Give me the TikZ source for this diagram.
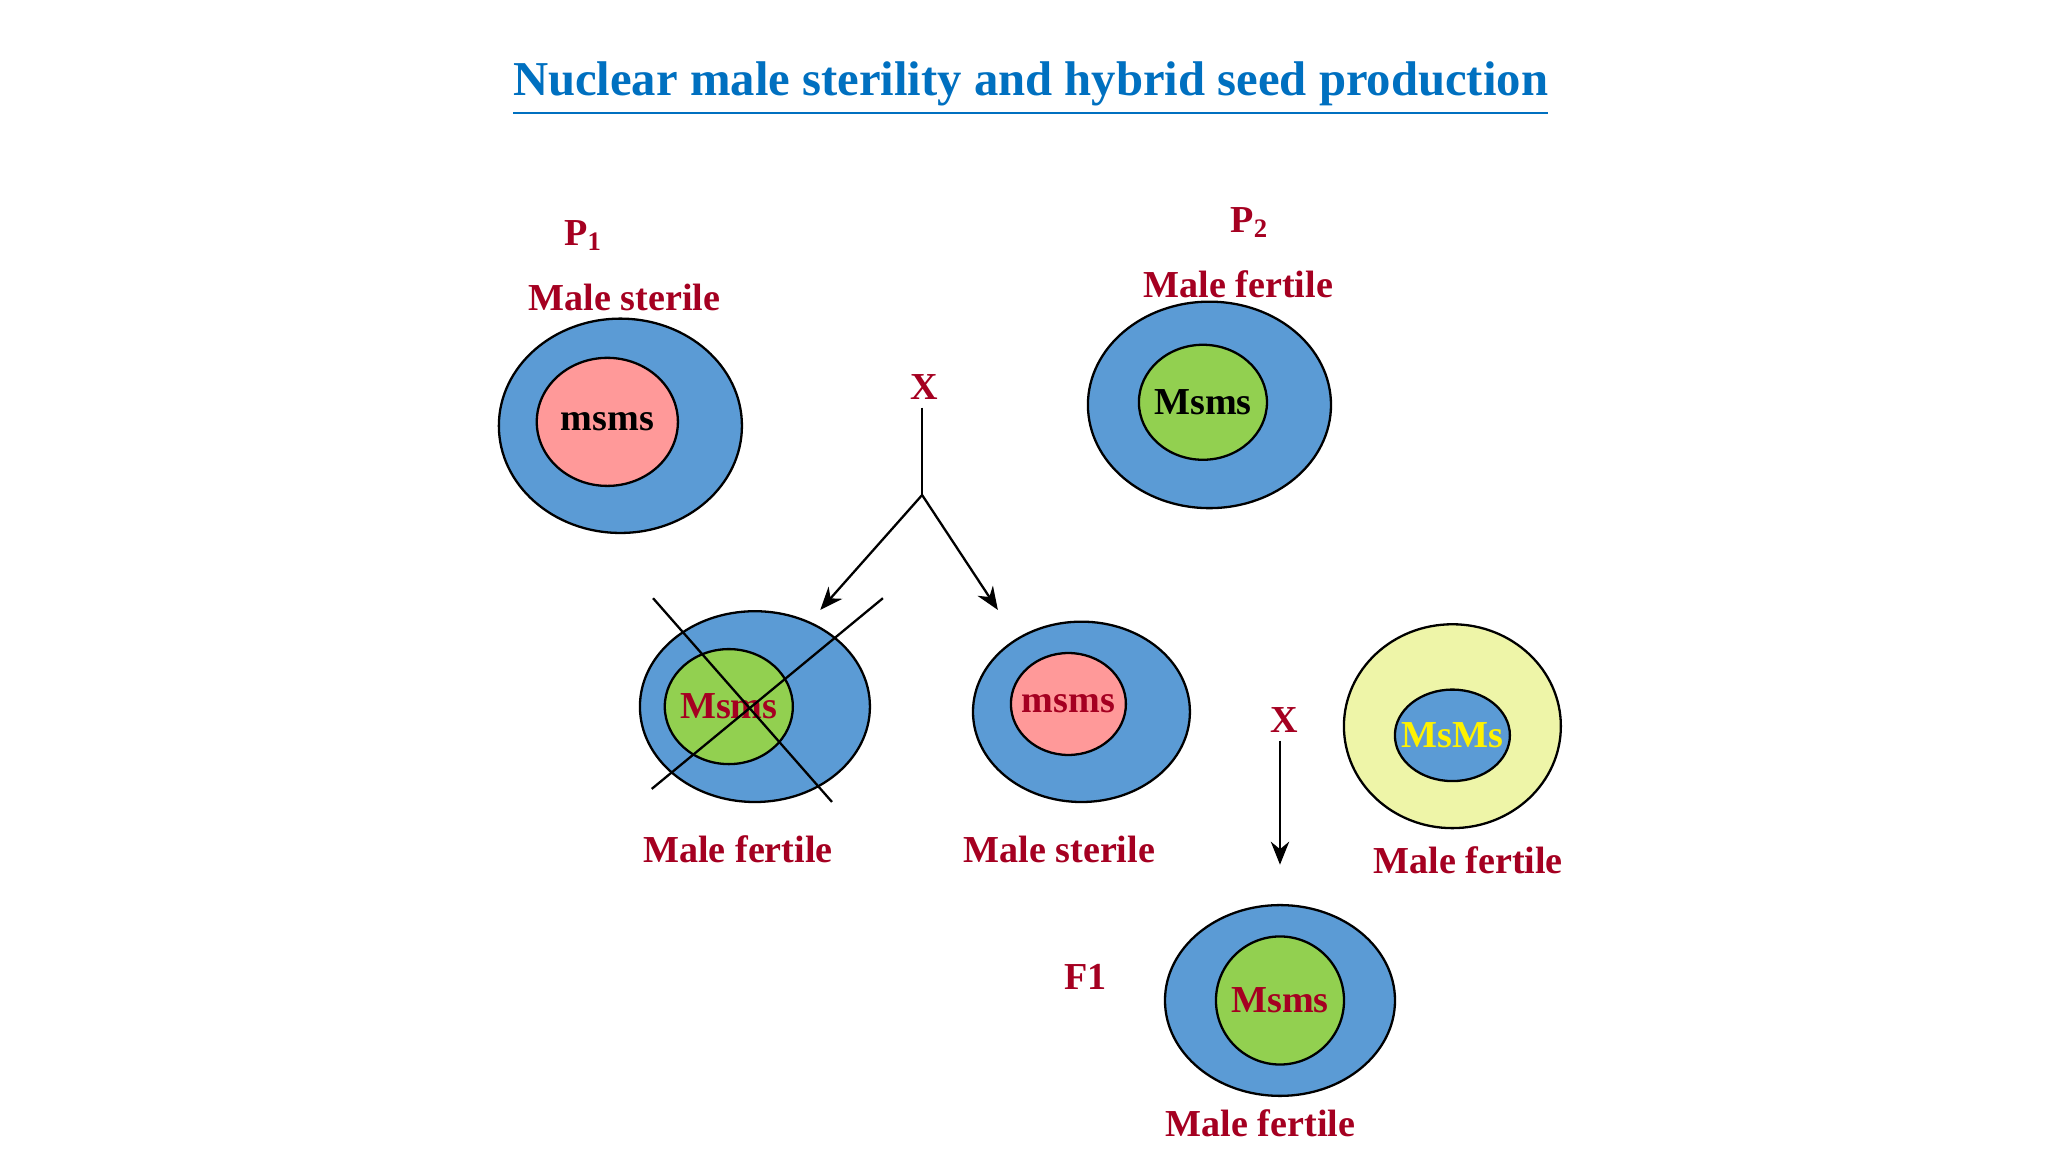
\documentclass[tikz,border=0pt]{standalone}
\usepackage{fontspec}
\setmainfont{Liberation Serif}
\usetikzlibrary{shapes.geometric,arrows.meta}
\definecolor{cblue}{HTML}{5B9BD5}
\definecolor{cpink}{HTML}{FF9999}
\definecolor{cgreen}{HTML}{92D050}
\definecolor{cyel}{HTML}{EEF5A8}
\definecolor{cred}{HTML}{A50021}
\definecolor{ctitle}{HTML}{0070C0}
\tikzset{
  ell/.style={ellipse,draw=black,line width=0.5pt,inner sep=0pt},
  lab/.style={text=cred,font=\bfseries\fontsize{8.3}{9}\selectfont,inner sep=0pt},
  gene/.style={font=\bfseries\fontsize{8.3}{9}\selectfont,inner sep=0pt},
  arr/.style={-{Stealth[length=5pt,width=4pt]},line width=0.5pt},
}
\begin{document}
\begin{tikzpicture}[x=0.01cm,y=-0.01cm]
\useasboundingbox (0,0) rectangle (1568,882);
\fill[white] (0,0) rectangle (1568,882);
\node[text=ctitle,font=\bfseries\fontsize{10.6}{12}\selectfont,inner sep=0pt] (title) at (789,68) {\underline{Nuclear male sterility and hybrid seed production}};
% P1
\node[ell,fill=cblue,minimum width=1.86cm,minimum height=1.64cm] (p1o) at (475,326) {};
\node[ell,fill=cpink,minimum width=1.08cm,minimum height=0.98cm] (p1i) at (465,323) {};
\node[gene] at (p1i) {msms};
\node[lab] (p1) at (447,180) {P\textsubscript{1}};
\node[lab] (p1l) at (478,228) {Male sterile};
% P2
\node[ell,fill=cblue,minimum width=1.86cm,minimum height=1.58cm] (p2o) at (926,310) {};
\node[ell,fill=cgreen,minimum width=0.98cm,minimum height=0.88cm] (p2i) at (921,308) {};
\node[gene] at (p2i) {Msms};
\node[lab] (p2) at (957,170) {P\textsubscript{2}};
\node[lab] (p2l) at (948,218) {Male fertile};
% cross
\node[lab] (x1) at (708,296) {X};
\coordinate (j) at (706,379);
\draw[line width=0.5pt] (706,312) -- (j);
\coordinate (a1) at (628,467);
\coordinate (a2) at (764,467);
\draw[arr] (j) -- (a1);
\draw[arr] (j) -- (a2);
% crossed out
\node[ell,fill=cblue,minimum width=1.76cm,minimum height=1.46cm] (co) at (578,541) {};
\node[ell,fill=cgreen,minimum width=0.98cm,minimum height=0.88cm] (ci) at (558,541) {};
\node[gene,text=cred] at (ci) {Msms};
\coordinate (c1) at (500,458); \coordinate (c2) at (637,614);
\coordinate (c3) at (676,458); \coordinate (c4) at (499,604);
\draw[line width=0.5pt] (c1) -- (c2);
\draw[line width=0.5pt] (c3) -- (c4);
\node[lab] (cl) at (565,650) {Male fertile};
% sterile
\node[ell,fill=cblue,minimum width=1.66cm,minimum height=1.38cm] (so) at (828,545) {};
\node[ell,fill=cpink,minimum width=0.88cm,minimum height=0.78cm] (si) at (818,539) {};
\node[gene,text=cred] at (si) {msms};
\node[lab] (sl) at (811,650) {Male sterile};
% MsMs
\node[ell,fill=cyel,minimum width=1.66cm,minimum height=1.56cm] (mo) at (1112,556) {};
\node[ell,fill=cblue,minimum width=0.88cm,minimum height=0.70cm] (mi) at (1112,563) {};
\node[gene,text=yellow] at (mi) {MsMs};
\node[lab] (ml) at (1124,659) {Male fertile};
% second cross
\node[lab] (x2) at (983,551) {X};
\coordinate (b1) at (980,567); \coordinate (b2) at (980,662);
\draw[arr] (b1) -- (b2);
% F1
\node[ell,fill=cblue,minimum width=1.76cm,minimum height=1.46cm] (fo) at (980,766) {};
\node[ell,fill=cgreen,minimum width=0.98cm,minimum height=0.98cm] (fi) at (980,766) {};
\node[gene,text=cred] at (fi) {Msms};
\node[lab] (f1) at (831,748) {F1};
\node[lab] (fl) at (965,860) {Male fertile};
\end{tikzpicture}
\end{document}
